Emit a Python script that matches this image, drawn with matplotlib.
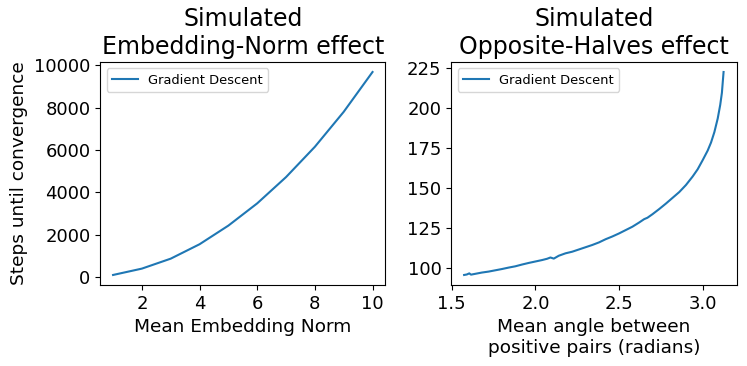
import matplotlib
matplotlib.use("Agg")
import matplotlib.pyplot as plt

# Left panel: steps vs mean embedding norm
norm_x = [1, 2, 3, 4, 5, 6, 7, 8, 9, 10]
norm_steps = [100, 400, 870, 1550, 2430, 3480, 4720, 6150, 7800, 9680]

# Right panel: steps vs mean angle between positive pairs
angle_x = [1.574, 1.59, 1.605, 1.615, 1.64, 1.68, 1.72, 1.76, 1.80, 1.84,
           1.88, 1.92, 1.96, 2.00, 2.04, 2.07, 2.09, 2.11, 2.14, 2.18,
           2.22, 2.26, 2.30, 2.34, 2.38, 2.42, 2.46, 2.50, 2.54, 2.58,
           2.62, 2.65, 2.67, 2.70, 2.74, 2.78, 2.82, 2.86, 2.90, 2.94,
           2.97, 3.00, 3.03, 3.05, 3.07, 3.09, 3.105, 3.115, 3.12, 3.125]
angle_steps = [95.9, 96.2, 96.9, 96.1, 96.6, 97.4, 98.0, 98.8, 99.6, 100.5,
               101.3, 102.4, 103.4, 104.3, 105.2, 106.0, 106.8, 106.1, 107.9, 109.4,
               110.4, 111.8, 113.2, 114.6, 116.2, 118.2, 119.9, 121.8, 123.9, 126.0,
               128.6, 130.7, 131.6, 133.8, 137.0, 140.4, 144.0, 147.6, 152.0, 157.3,
               161.8, 167.5, 173.5, 178.5, 185.0, 193.5, 202.0, 209.5, 216.0, 222.5]

label = "Gradient Descent"

fig, (ax1, ax2) = plt.subplots(1, 2, figsize=(7.47, 3.66), dpi=100)
fig.subplots_adjust(left=0.134, right=0.986, bottom=0.221, top=0.831, wspace=0.23)

ax1.plot(norm_x, norm_steps, label=label)
ax1.set_title("Simulated\nEmbedding-Norm effect", fontsize=17)
ax1.set_xlabel("Mean Embedding Norm", fontsize=13.3)
ax1.set_ylabel("Steps until convergence", fontsize=13.3)
ax1.set_xticks([2, 4, 6, 8, 10])
ax1.legend(loc="upper left", fontsize=9.4)

ax2.plot(angle_x, angle_steps, label=label)
ax2.set_title("Simulated\nOpposite-Halves effect", fontsize=17)
ax2.set_xlabel("Mean angle between\npositive pairs (radians)", fontsize=13.3)
ax2.legend(loc="upper left", fontsize=9.4)

for ax in (ax1, ax2):
    ax.tick_params(labelsize=13)

fig.savefig("out.png")
